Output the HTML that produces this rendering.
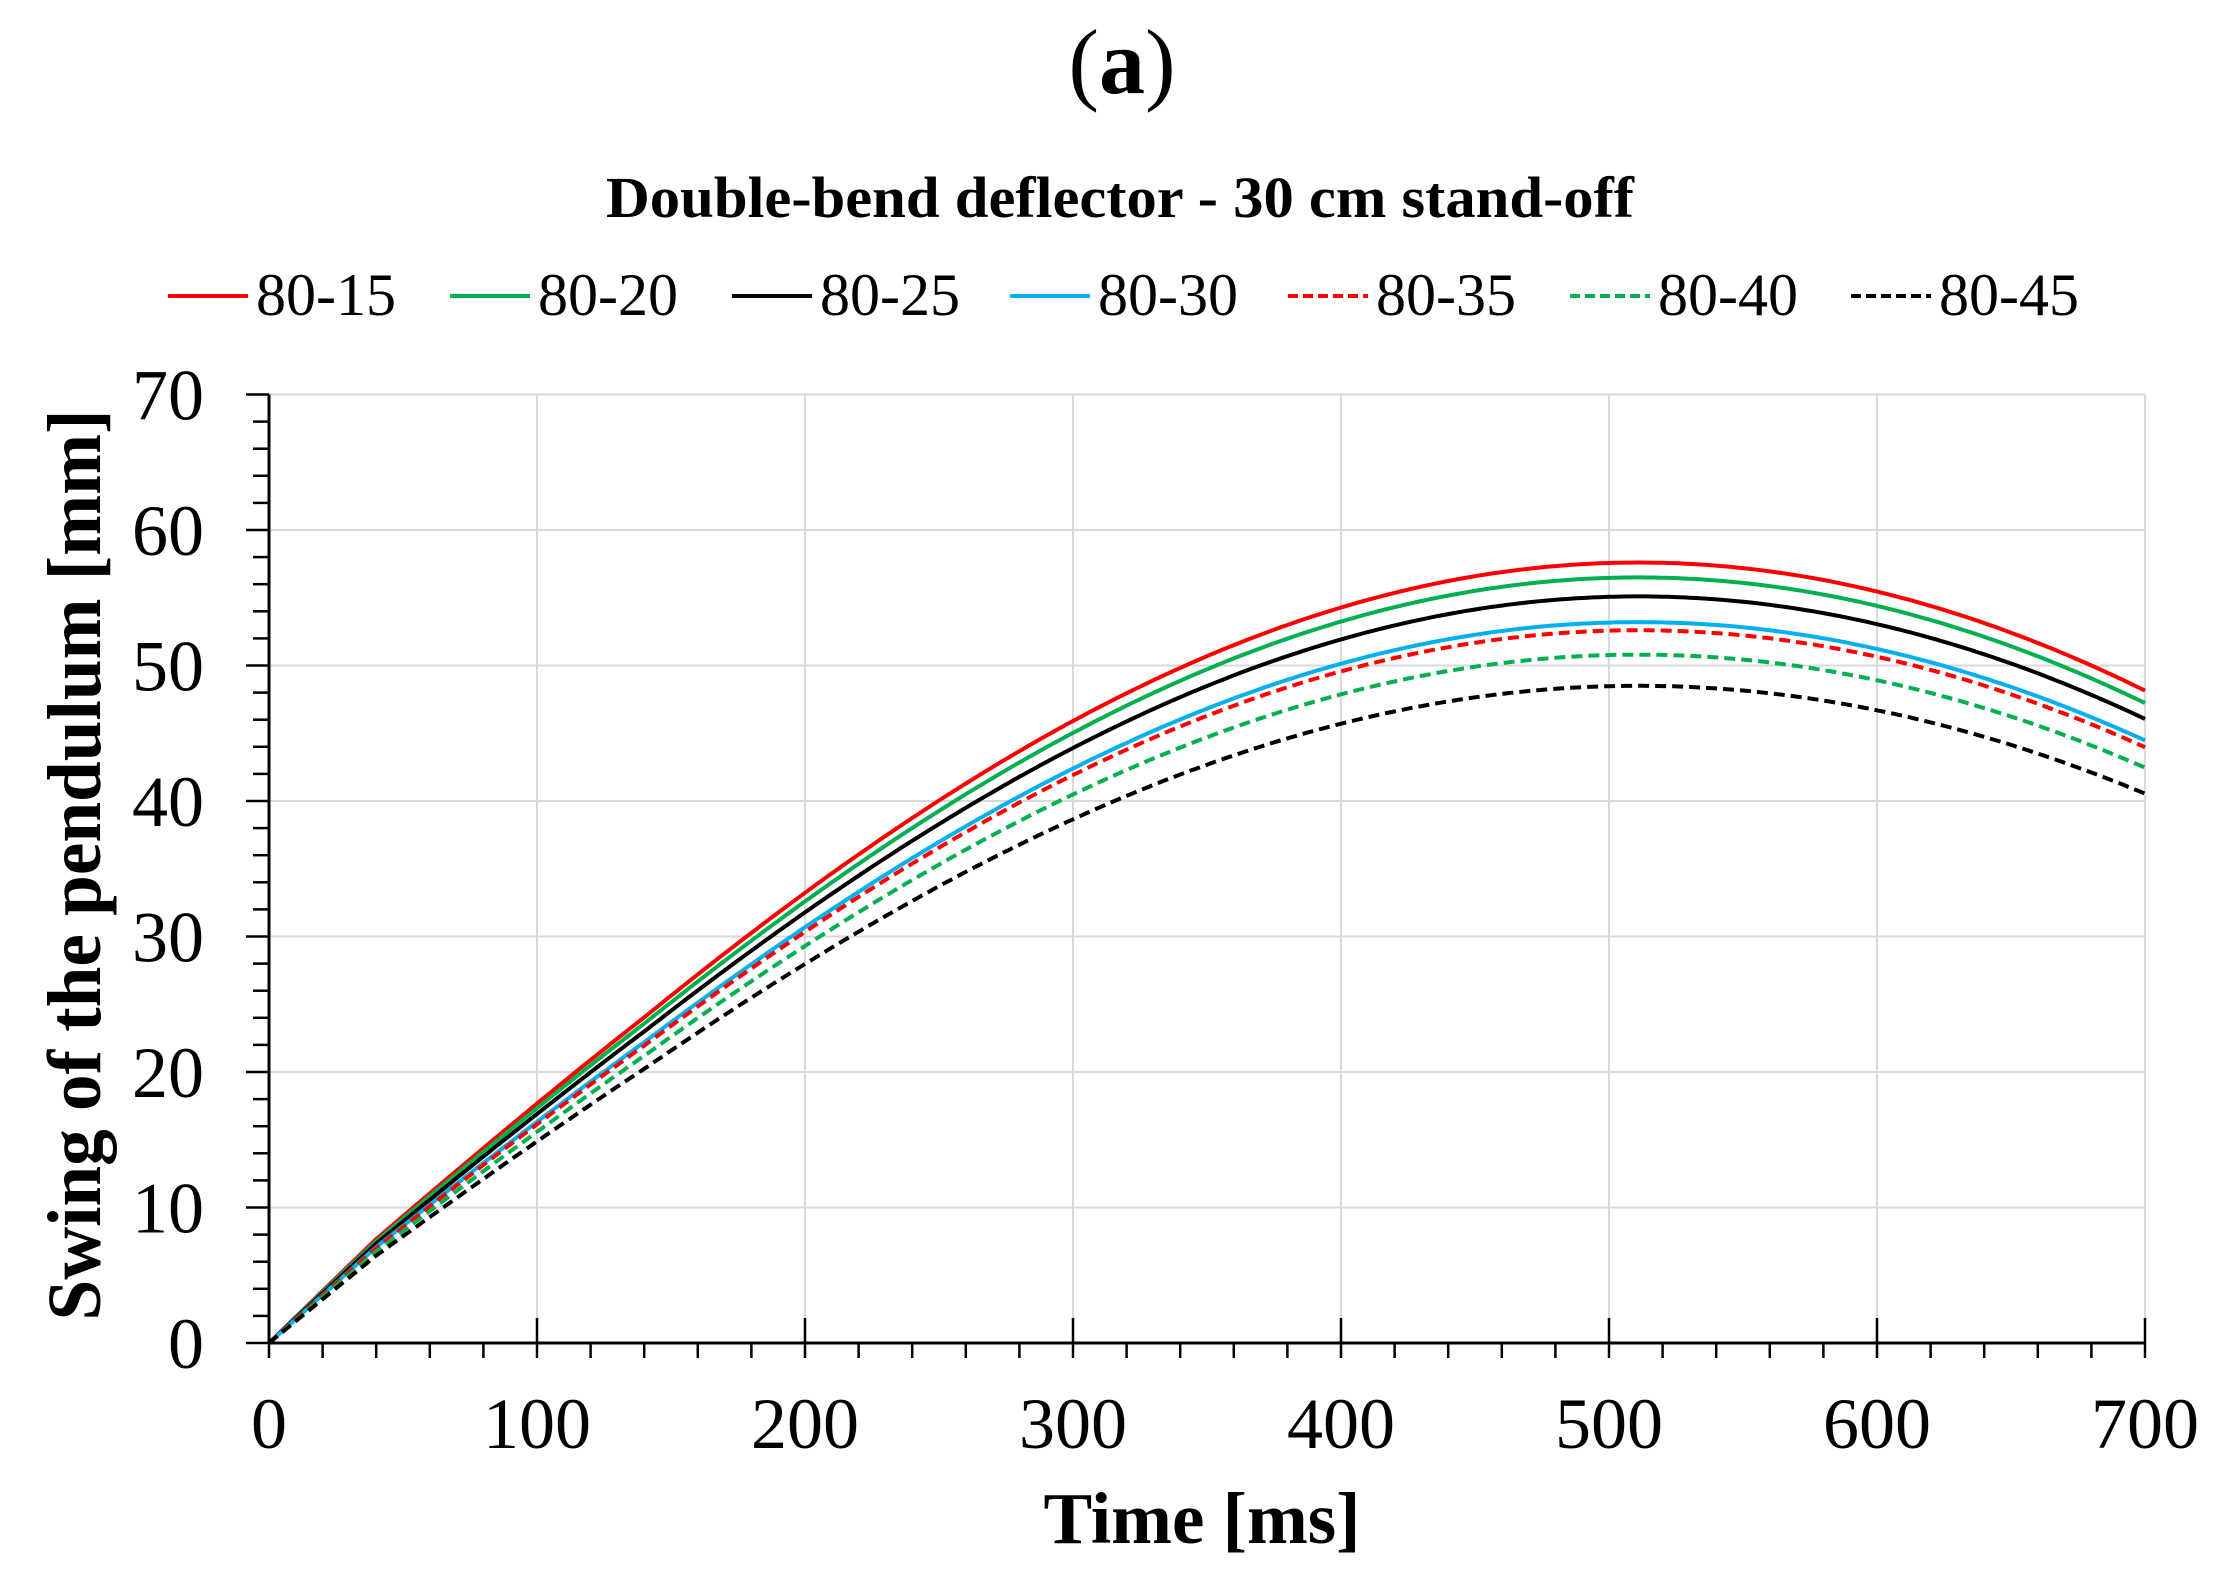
<!DOCTYPE html>
<html><head><meta charset="utf-8"><style>html,body{margin:0;padding:0;background:#fff}svg{display:block}</style></head>
<body>
<svg id="s" width="2224" height="1585" xmlns="http://www.w3.org/2000/svg" font-family="'Liberation Serif', serif">
<rect width="2224" height="1585" fill="#fff"/>
<text x="1122" y="93" font-size="92" text-anchor="middle">(<tspan font-weight="bold">a</tspan>)</text>
<text x="1120" y="217" font-size="58" text-anchor="middle" font-weight="bold" textLength="1028" lengthAdjust="spacingAndGlyphs">Double-bend deflector - 30 cm stand-off</text>
<g id="leg" font-size="60"></g>
<g id="grid" stroke="#d9d9d9" stroke-width="2"></g>
<g id="curves" fill="none" stroke-width="4"></g>
<g id="axes" stroke="#000" stroke-width="3"></g>
<g id="labels" font-size="72"></g>
<text x="1202" y="1543" font-size="73" text-anchor="middle" font-weight="bold">Time [ms]</text>
<text transform="translate(100,865) rotate(-90)" font-size="76" text-anchor="middle" font-weight="bold" textLength="911" lengthAdjust="spacingAndGlyphs">Swing of the pendulum [mm]</text>
</svg>
<script>
var NS="http://www.w3.org/2000/svg";
function el(p,t,a,txt){var e=document.createElementNS(NS,t);for(var k in a)e.setAttribute(k,a[k]);if(txt!=null)e.textContent=txt;document.getElementById(p).appendChild(e);return e;}
var X=function(t){return 269+t*2.68}, Y=function(v){return 1343-v*13.55};
for(var i=0;i<=7;i++){el('grid','line',{x1:X(i*100),x2:X(i*100),y1:Y(0),y2:Y(70)});el('grid','line',{x1:X(0),x2:X(700),y1:Y(i*10),y2:Y(i*10)});}
var S=[["80-15","#ff0000",57.6,0],["80-20","#00b050",56.5,0],["80-25","#000",55.1,0],["80-30","#00b0f0",53.2,0],["80-35","#ff0000",52.6,1],["80-40","#00b050",50.8,1],["80-45","#000",48.5,1]];
var LX=[168,450,732,1010,1288,1570,1851];
function bump(t){if(t<40)return 0.6*t/40;if(t<140)return 0.6*(1-(t-40)/100);return 0;}
S.forEach(function(s,i){
 var d="";
 for(var t=0;t<=700;t+=2){var v=s[2]*Math.sin(Math.PI*t/1022)+bump(t)*(s[2]/57.6); d+=(t?"L":"M")+X(t).toFixed(1)+","+Y(v).toFixed(1);}
 var a={d:d,stroke:s[1]}; if(s[3])a["stroke-dasharray"]="11 6";
 el('curves','path',a);
 var la={x1:LX[i],x2:LX[i]+80,y1:296,y2:296,stroke:s[1],"stroke-width":4};if(s[3])la["stroke-dasharray"]="10 5";
 el('leg','line',la);
 el('leg','text',{x:LX[i]+88,y:315},s[0]);
});
el('axes','line',{x1:X(0),x2:X(0),y1:Y(70),y2:Y(0)+1});
el('axes','line',{x1:X(0)-1,x2:X(700)+1,y1:Y(0),y2:Y(0)});
for(var v=0;v<=70;v+=2){var maj=v%10==0;el('axes','line',{x1:maj?246:253,x2:X(0),y1:Y(v),y2:Y(v),"stroke-width":2.5});}
for(var t=0;t<=700;t+=20){var maj=t%100==0;el('axes','line',{x1:X(t),x2:X(t),y1:maj?Y(0)-25:Y(0),y2:Y(0)+15,"stroke-width":2.5});}
for(var v=0;v<=70;v+=10)el('labels','text',{x:204,y:Y(v)+25,"text-anchor":"end"},String(v));
for(var t=0;t<=700;t+=100)el('labels','text',{x:X(t),y:1448,"text-anchor":"middle"},String(t));
</script>
</body></html>
